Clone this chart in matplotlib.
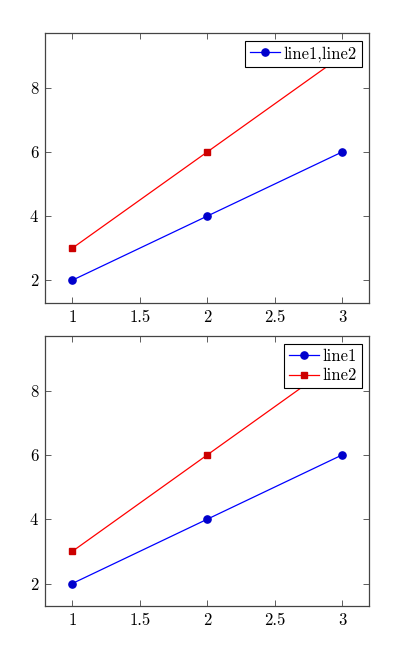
import matplotlib
matplotlib.use("Agg")
import matplotlib.pyplot as plt

x = [1, 2, 3]
line1 = [2, 4, 6]
line2 = [3, 6, 9]
xticks = [1, 1.5, 2, 2.5, 3]
yticks = [2, 4, 6, 8]

plt.rcParams['font.family'] = ['cmr10', 'DejaVu Serif']
plt.rcParams['axes.formatter.use_mathtext'] = True
plt.rcParams['font.size'] = 12

fig = plt.figure(figsize=(3.94, 6.6), dpi=100)
ax_top = fig.add_axes([0.115, 0.5414, 0.8216, 0.408])
ax_bot = fig.add_axes([0.115, 0.0818, 0.8216, 0.409])


def style(ax):
    ax.set_xlim(0.8, 3.2)
    ax.set_ylim(1.3, 9.7)
    ax.set_xticks(xticks)
    ax.set_xticklabels(['1', '1.5', '2', '2.5', '3'])
    ax.set_yticks(yticks)
    ax.set_yticklabels([str(v) for v in yticks])
    ax.tick_params(direction='in', top=True, right=True, length=4,
                   width=0.6, color='#444444', labelsize=12, pad=5)
    for s in ax.spines.values():
        s.set_linewidth(0.9)
        s.set_color('#444444')


def draw(ax):
    h1, = ax.plot(x, line1, '-o', color='blue', mfc=(0, 0, 0.8), mec=(0, 0, 0.8),
                  ms=5.2, lw=0.9)
    h2, = ax.plot(x, line2, '-s', color='red', mfc=(0.8, 0, 0), mec=(0.8, 0, 0),
                  ms=5, lw=0.9)
    return h1, h2


h1, h2 = draw(ax_top)
style(ax_top)
leg = ax_top.legend([h1], ['line1,line2'], loc='upper right', fancybox=False,
                    edgecolor='black', framealpha=1, handlelength=1.8,
                    handletextpad=0.2, borderpad=0.3, borderaxespad=0.45)
leg.get_frame().set_linewidth(0.8)

h1, h2 = draw(ax_bot)
style(ax_bot)
leg = ax_bot.legend([h1, h2], ['line1', 'line2'], loc='upper right', fancybox=False,
                    edgecolor='black', framealpha=1, handlelength=1.8,
                    handletextpad=0.2, borderpad=0.3, borderaxespad=0.45,
                    labelspacing=0.25)
leg.get_frame().set_linewidth(0.8)

fig.savefig("out.png", dpi=100)
